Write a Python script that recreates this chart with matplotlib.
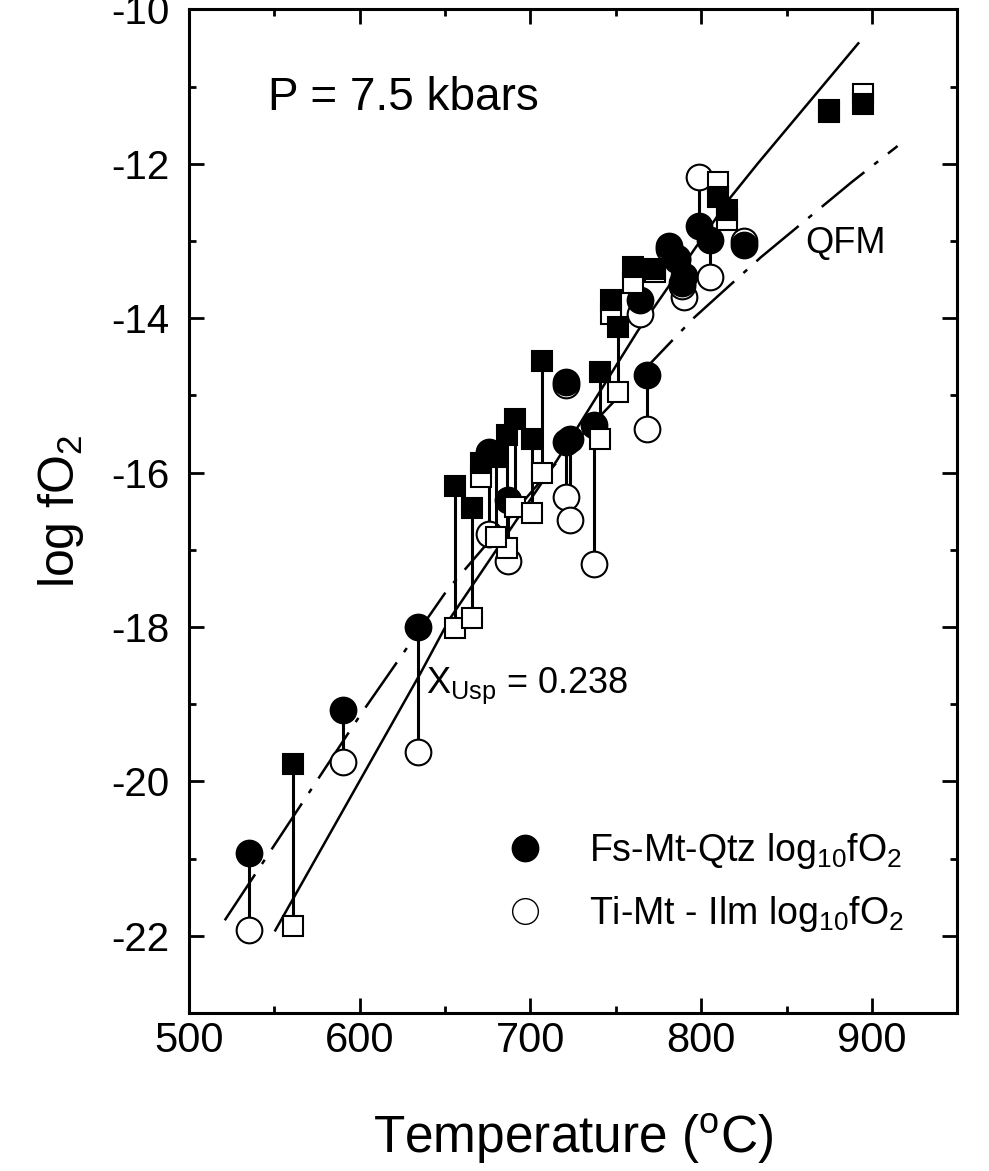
import matplotlib
matplotlib.use("Agg")
import matplotlib.pyplot as plt
from matplotlib.lines import Line2D
from matplotlib.ticker import MultipleLocator

plt.rcParams['font.family'] = ['Liberation Sans', 'DejaVu Sans']
plt.rcParams['mathtext.fontset'] = 'custom'
plt.rcParams['mathtext.rm'] = 'Liberation Sans'
plt.rcParams['mathtext.it'] = 'Liberation Sans'
plt.rcParams['axes.unicode_minus'] = False

# circle samples: temperature, Fs-Mt-Qtz log fO2 (filled), Ti-Mt-Ilm log fO2 (open)
circ_T = [535, 590, 634, 676, 687, 721, 721, 723, 737, 768, 764,
          781, 786, 790, 789, 799, 805, 825]
circ_fs = [-20.93, -19.07, -18.00, -15.74, -16.36, -14.83, -15.61, -15.57, -15.39, -14.74, -13.77,
           -13.07, -13.22, -13.45, -13.55, -12.80, -12.99, -13.05]
circ_ti = [-21.93, -19.75, -19.62, -16.79, -17.14, -14.87, -16.32, -16.62, -17.18, -15.43, -13.94,
           -13.10, -13.25, -13.73, -13.58, -12.17, -13.47, -13.00]

# square samples
sq_T = [561, 656, 666, 671, 686, 691, 701, 707, 680, 741, 751, 747, 760, 773, 810, 815, 875, 895]
sq_fs = [-19.78, -16.17, -16.46, -15.88, -15.52, -15.30, -15.56, -14.55, -15.80, -14.70, -14.12,
         -13.77, -13.34, -13.36, -12.43, -12.60, -11.31, -11.23]
sq_ti = [-21.88, -18.02, -17.88, -16.06, -16.98, -16.44, -16.53, -16.01, -16.83, -15.57, -14.96,
         -13.94, -13.55, -13.40, -12.24, -12.73, -11.33, -11.09]

# X_Usp = 0.238 isopleth (solid) and QFM buffer (dash-dot)
usp_T = [550.6, 635.6, 652.6, 715.6, 763, 817, 833, 892]
usp_y = [-21.93, -18.60, -17.90, -15.84, -14.16, -12.44, -12.00, -10.44]
qfm_T = [521, 601, 651, 720, 783, 796, 835, 888, 915]
qfm_y = [-21.80, -19.12, -17.53, -15.75, -14.29, -13.99, -13.21, -12.24, -11.77]

fig = plt.figure(figsize=(9.89, 11.71), dpi=100)
ax = fig.add_axes([0.191, 0.135, 0.777, 0.857])

ax.plot(usp_T, usp_y, color='k', lw=1.8, zorder=2)
ax.plot(qfm_T, qfm_y, color='k', lw=1.8, ls=(0, (22, 5, 2, 5)), zorder=2)

ax.vlines(circ_T, circ_fs, circ_ti, color='k', lw=2.2, zorder=3)
ax.plot(circ_T, circ_ti, 'o', ms=18.5, mfc='white', mec='k', mew=1.5, zorder=4)
ax.plot(circ_T, circ_fs, 'o', ms=18.5, mfc='k', mec='k', mew=1.5, zorder=5)
ax.vlines(sq_T, sq_fs, sq_ti, color='k', lw=2.2, zorder=6)
ax.plot(sq_T, sq_ti, 's', ms=15, mfc='white', mec='k', mew=1.5, zorder=7)
ax.plot(sq_T, sq_fs, 's', ms=15, mfc='k', mec='k', mew=1.5, zorder=8)

ax.set_xlim(500, 950)
ax.set_ylim(-23, -10)
ax.xaxis.set_major_locator(MultipleLocator(100))
ax.xaxis.set_minor_locator(MultipleLocator(50))
ax.yaxis.set_major_locator(MultipleLocator(2))
ax.yaxis.set_minor_locator(MultipleLocator(1))
ax.set_xticks([500, 600, 700, 800, 900])
ax.tick_params(which='both', direction='in', top=True, right=True, width=2)
ax.tick_params(which='major', length=11)
ax.tick_params(which='minor', length=5)
ax.tick_params(axis='x', labelsize=30, pad=6)
ax.tick_params(axis='y', labelsize=29, pad=14)
for s in ax.spines.values():
    s.set_linewidth(2.2)

ax.set_xlabel(r'Temperature ($^\mathrm{o}$C)', fontsize=37, labelpad=36)
ax.set_ylabel(r'log fO$_2$', fontsize=36, labelpad=18)

ax.text(0.103, 0.912, 'P = 7.5 kbars', transform=ax.transAxes, fontsize=33, va='center')
ax.text(0.802, 0.767, 'QFM', transform=ax.transAxes, fontsize=26, va='center')
ax.text(0.308, 0.326, r'X$_\mathrm{Usp}$ = 0.238', transform=ax.transAxes, fontsize=26, va='center')

handles = [Line2D([], [], ls='none', marker='o', ms=18.5, mfc='k', mec='k', mew=1.5),
           Line2D([], [], ls='none', marker='o', ms=18.5, mfc='white', mec='k', mew=1.0)]
labels = [r'Fs-Mt-Qtz log$_{10}$fO$_2$', r'Ti-Mt - Ilm log$_{10}$fO$_2$']
ax.legend(handles, labels, loc='center left', bbox_to_anchor=(0.413, 0.130), frameon=False,
          fontsize=27, handlelength=1.0, handletextpad=1.2, labelspacing=0.6,
          borderpad=0, borderaxespad=0)

fig.savefig('out.png', dpi=100)
